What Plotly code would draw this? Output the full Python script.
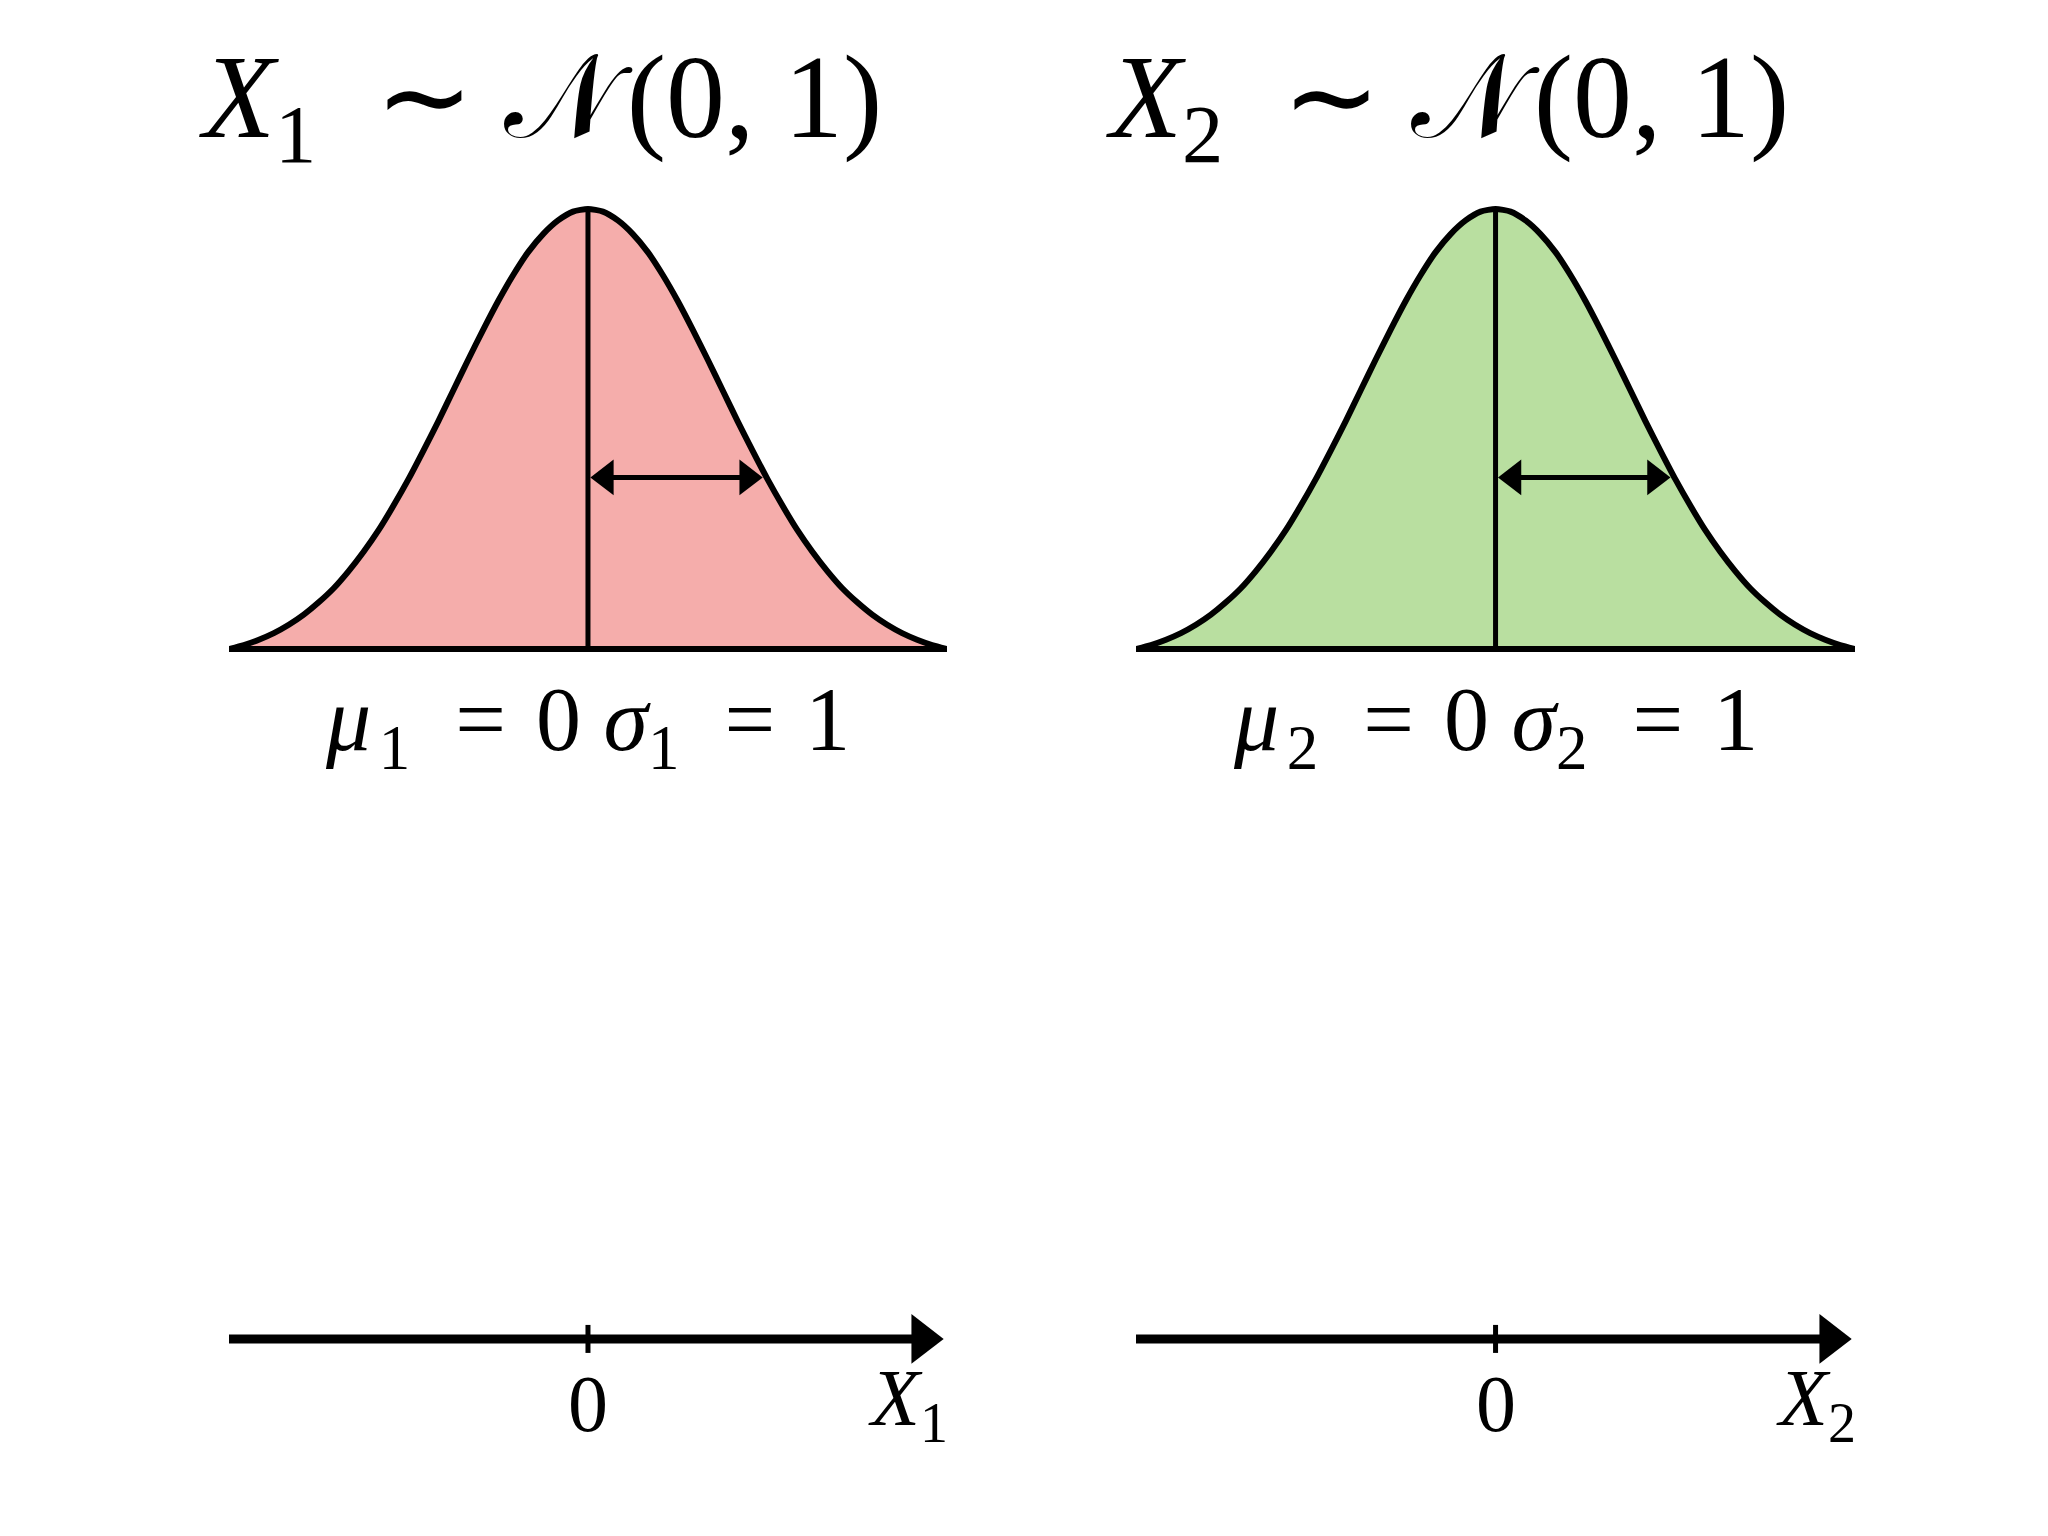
import plotly.graph_objects as go

# ---- data ----
# curve shape: height as a fraction of the peak, x in the panel's axis units
curve_x = [-3.0, -2.875, -2.75, -2.625, -2.5, -2.375, -2.25, -2.125, -2.0, -1.875, -1.75, -1.625,
           -1.5, -1.375, -1.25, -1.125, -1.0, -0.875, -0.75, -0.625, -0.5, -0.375, -0.25, -0.125,
           0.0,
           0.125, 0.25, 0.375, 0.5, 0.625, 0.75, 0.875, 1.0, 1.125, 1.25, 1.375, 1.5,
           1.625, 1.75, 1.875, 2.0, 2.125, 2.25, 2.375, 2.5, 2.625, 2.75, 2.875, 3.0]
curve_y = [0.0, 0.009, 0.021, 0.036, 0.055, 0.078, 0.106, 0.138, 0.177, 0.221, 0.270, 0.326,
           0.386, 0.451, 0.518, 0.588, 0.658, 0.726, 0.791, 0.850, 0.902, 0.943, 0.974, 0.994,
           1.0,
           0.994, 0.974, 0.943, 0.902, 0.850, 0.791, 0.726, 0.658, 0.588, 0.518, 0.451, 0.386,
           0.326, 0.270, 0.221, 0.177, 0.138, 0.106, 0.078, 0.055, 0.036, 0.021, 0.009, 0.0]

panel_index = ["1", "2"]
panel_mu = [0, 0]
panel_sigma = [1, 1]
fill_colors = ["#F5ADAB", "#B9DFA0"]

arrow_level = 0.39      # height of the sigma arrow
arrow_tip = 1.48        # where the sigma arrow touches the curve
axis_start = -3.03
axis_end = 3.0
axis_level = -1.568
tick_values = [0]
tick_labels = ["0"]

# ---- layout constants ----
W, H = 2048, 1536
PAGE_OFF = 8  # default body margin of the html page
x_range = [-3, 3]
domains = [[0.1118 - PAGE_OFF / W, 0.4624 - PAGE_OFF / W],
           [0.5547 - PAGE_OFF / W, 0.9058 - PAGE_OFF / W]]
px_per_y = 440.0
y_top = (649 - PAGE_OFF) / px_per_y
y_range = [y_top - H / px_per_y, y_top]
px_per_x = (domains[0][1] - domains[0][0]) * W / (x_range[1] - x_range[0])
FONT = "Liberation Serif"
EN = "\u2002"     # en space
THIRD = "\u2004"  # three-per-em space
HAIR = "\u200A"   # hair space

fig = go.Figure()
annotations = []

for i, idx in enumerate(panel_index):
    xa = "x" if i == 0 else "x2"
    mu = panel_mu[i]
    # filled curve
    fig.add_trace(go.Scatter(
        x=[mu + v for v in curve_x], y=curve_y, xaxis=xa, yaxis="y",
        mode="lines", line=dict(color="black", width=6, shape="spline", smoothing=0.6),
        fill="tozeroy", fillcolor=fill_colors[i], showlegend=False, hoverinfo="skip"))
    # baseline
    fig.add_trace(go.Scatter(
        x=[mu + curve_x[0], mu + curve_x[-1]], y=[0, 0], xaxis=xa, yaxis="y",
        mode="lines", line=dict(color="black", width=6), showlegend=False, hoverinfo="skip"))
    # mean line
    fig.add_trace(go.Scatter(
        x=[mu, mu], y=[0, max(curve_y)], xaxis=xa, yaxis="y",
        mode="lines", line=dict(color="black", width=5), showlegend=False, hoverinfo="skip"))
    # sigma double arrow
    head_size = 31
    head_off = (head_size / 2) * 2 / 3 ** 0.5 / px_per_x
    fig.add_trace(go.Scatter(
        x=[mu + head_off, mu + arrow_tip - head_off], y=[arrow_level, arrow_level],
        xaxis=xa, yaxis="y", mode="lines", line=dict(color="black", width=5),
        showlegend=False, hoverinfo="skip"))
    fig.add_trace(go.Scatter(
        x=[mu + head_off, mu + arrow_tip - head_off], y=[arrow_level, arrow_level],
        xaxis=xa, yaxis="y", mode="markers",
        marker=dict(symbol=["triangle-left", "triangle-right"], size=head_size, color="black",
                    line=dict(width=0)),
        showlegend=False, hoverinfo="skip"))
    # number line
    big_head = 43
    big_off = (big_head / 2) * 2 / 3 ** 0.5 / px_per_x
    fig.add_trace(go.Scatter(
        x=[axis_start, axis_end - big_off], y=[axis_level, axis_level], xaxis=xa, yaxis="y",
        mode="lines", line=dict(color="black", width=9), showlegend=False, hoverinfo="skip"))
    fig.add_trace(go.Scatter(
        x=[axis_end - big_off], y=[axis_level], xaxis=xa, yaxis="y", mode="markers",
        marker=dict(symbol="triangle-right", size=big_head, color="black", line=dict(width=0)),
        showlegend=False, hoverinfo="skip"))
    for tv, tl in zip(tick_values, tick_labels):
        fig.add_trace(go.Scatter(
            x=[tv, tv], y=[axis_level - 14 / px_per_y, axis_level + 14 / px_per_y],
            xaxis=xa, yaxis="y", mode="lines", line=dict(color="black", width=5),
            showlegend=False, hoverinfo="skip"))
        annotations.append(dict(x=tv, y=axis_level - 65 / px_per_y, xref=xa, yref="y",
                                text=tl, showarrow=False, xanchor="center", yanchor="middle",
                                font=dict(family=FONT, size=80, color="black")))
    # axis name
    annotations.append(dict(x=axis_end - 0.33, y=axis_level - 65 / px_per_y, xref=xa, yref="y",
                            text=f"<i>X</i><sub>{idx}</sub>", showarrow=False,
                            xanchor="center", yanchor="middle",
                            font=dict(family=FONT, size=80, color="black")))
    # title
    annotations.append(dict(x=mu - 0.40, y=1.235, xref=xa, yref="y",
                            text=(f"<i>X</i><sub>{idx}</sub>{EN}∼ "
                                  f"𝒩{HAIR}({panel_mu[i]}, {panel_sigma[i]})"),
                            showarrow=False, xanchor="center", yanchor="middle",
                            font=dict(family=FONT, size=118, color="black")))
    # parameters
    annotations.append(dict(x=mu + 0.0, y=-0.175, xref=xa, yref="y",
                            text=(f"<i>μ</i>{HAIR}<sub>{idx}</sub>{EN}={THIRD}{panel_mu[i]} "
                                  f"<i>σ</i><sub>{idx}</sub>{EN}={THIRD}{panel_sigma[i]}"),
                            showarrow=False, xanchor="center", yanchor="middle",
                            font=dict(family=FONT, size=90, color="black")))

axis_common = dict(range=x_range, visible=False, showgrid=False, zeroline=False, fixedrange=True)
fig.update_layout(
    width=W, height=H,
    margin=dict(l=0, r=0, t=0, b=0),
    paper_bgcolor="white", plot_bgcolor="white",
    xaxis=dict(domain=domains[0], anchor="y", **axis_common),
    xaxis2=dict(domain=domains[1], anchor="y", **axis_common),
    yaxis=dict(domain=[0, 1], range=y_range, visible=False, showgrid=False,
               zeroline=False, fixedrange=True),
    annotations=annotations,
    showlegend=False,
)

fig.write_html("out.html", config={"displayModeBar": False})
